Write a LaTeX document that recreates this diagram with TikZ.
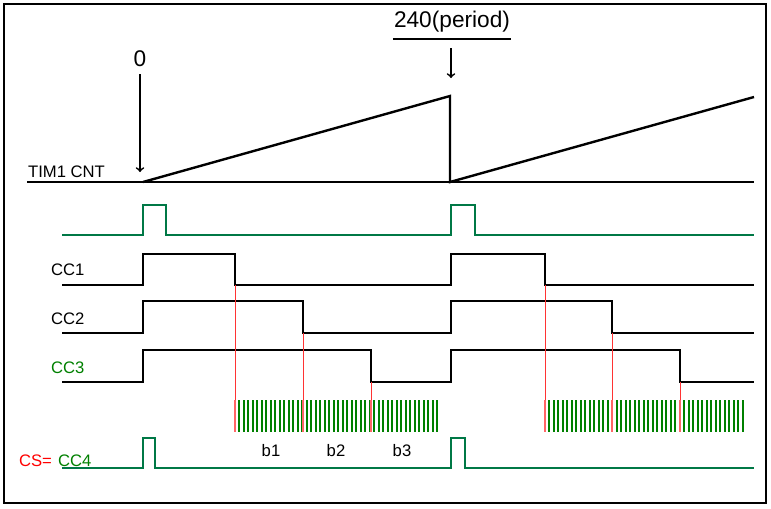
\documentclass[tikz,border=0pt]{standalone}
\usepackage{fontspec}
\setmainfont{Liberation Sans}
\usetikzlibrary{arrows,calc}
\definecolor{wgreen}{RGB}{0,120,70}
\definecolor{sgreen}{RGB}{0,128,0}
\begin{document}
\begin{tikzpicture}[x=0.75pt, y=-0.75pt, line width=1.6pt]
   \tikzset{lbl/.style={font=\fontsize{12.5}{14}\selectfont, inner sep=0pt},
            big/.style={font=\fontsize{17}{19}\selectfont, inner sep=0pt},
            wave/.style={line width=1.8pt},
            edge/.style={red!80, line width=0.5pt}}
   \useasboundingbox (0,0) rectangle (771,508);
   \draw[line width=1.5pt] (4,4) rectangle (766,503);
   % labels
   \node[lbl, anchor=base west] (cnt) at (27,177) {TIM1 CNT};
   \node[lbl, anchor=base west] (cc1) at (50,275) {CC1};
   \node[lbl, anchor=base west] (cc2) at (50,324) {CC2};
   \node[lbl, anchor=base west, text=sgreen] (cc3) at (50,373) {CC3};
   \node[lbl, anchor=base west, text=red] (cs) at (18,466) {CS=};
   \node[lbl, anchor=base west, text=sgreen] (cc4) at (57,466) {CC4};
   \node[big] (zero) at (140,59) {0};
   \node[big] (per) at (452,22) {240(period)};
   \draw[line width=1.3pt] ($(per.south west)+(0,5)$) coordinate (u1) -- ($(per.south east)+(0,5)$);
   \coordinate (z1) at (140,172);
   \coordinate (p1) at (451,78);
   \draw[->, >=to, line width=1.3pt] (140,74) -- (z1);
   \draw[->, >=to, line width=1.3pt] (451,48) -- (p1);
   % counter
   \draw[wave] (27,182) -- (754,182);
   \draw[wave] (143,182) -- (450,96) -- (450,182) -- (754,97);
   % trigger
   \draw[wave, wgreen] (62,235) -- (143,235) -- (143,205) -- (166,205) -- (166,235)
      -- (451,235) -- (451,205) -- (475,205) -- (475,235) -- (754,235);
   % compare channels
   \draw[wave] (62,285) -- (143,285) -- (143,254) -- (235,254) -- (235,285)
      -- (451,285) -- (451,254) -- (545,254) -- (545,285) -- (754,285);
   \draw[wave] (62,333) -- (143,333) -- (143,301) -- (303,301) -- (303,333)
      -- (451,333) -- (451,301) -- (612,301) -- (612,333) -- (754,333);
   \draw[wave] (62,382) -- (143,382) -- (143,350) -- (371,350) -- (371,382)
      -- (451,382) -- (451,350) -- (680,350) -- (680,382) -- (754,382);
   \draw[wave, wgreen] (62,468) -- (143,468) -- (143,438) -- (155,438) -- (155,468)
      -- (451,468) -- (451,438) -- (465,438) -- (465,468) -- (754,468);
   % stripes
   \foreach \s in {238,242.5,...,436} \fill[sgreen] (\s,400) rectangle ++(2.3,32);
   \foreach \s in {548,552.5,...,744} \fill[sgreen] (\s,400) rectangle ++(2.3,32);
   \foreach \x/\y in {235/285,303/333,371/382,545/285,612/333,680/382} {
      \draw[edge] (\x,\y) -- (\x,400);
      \fill[red!60] (\x-1.2,400) rectangle (\x+1.2,432);
   }
   \node[lbl] (b1) at (271,451) {b1};
   \node[lbl] (b2) at (336,451) {b2};
   \node[lbl] (b3) at (402,451) {b3};
\end{tikzpicture}
\end{document}
